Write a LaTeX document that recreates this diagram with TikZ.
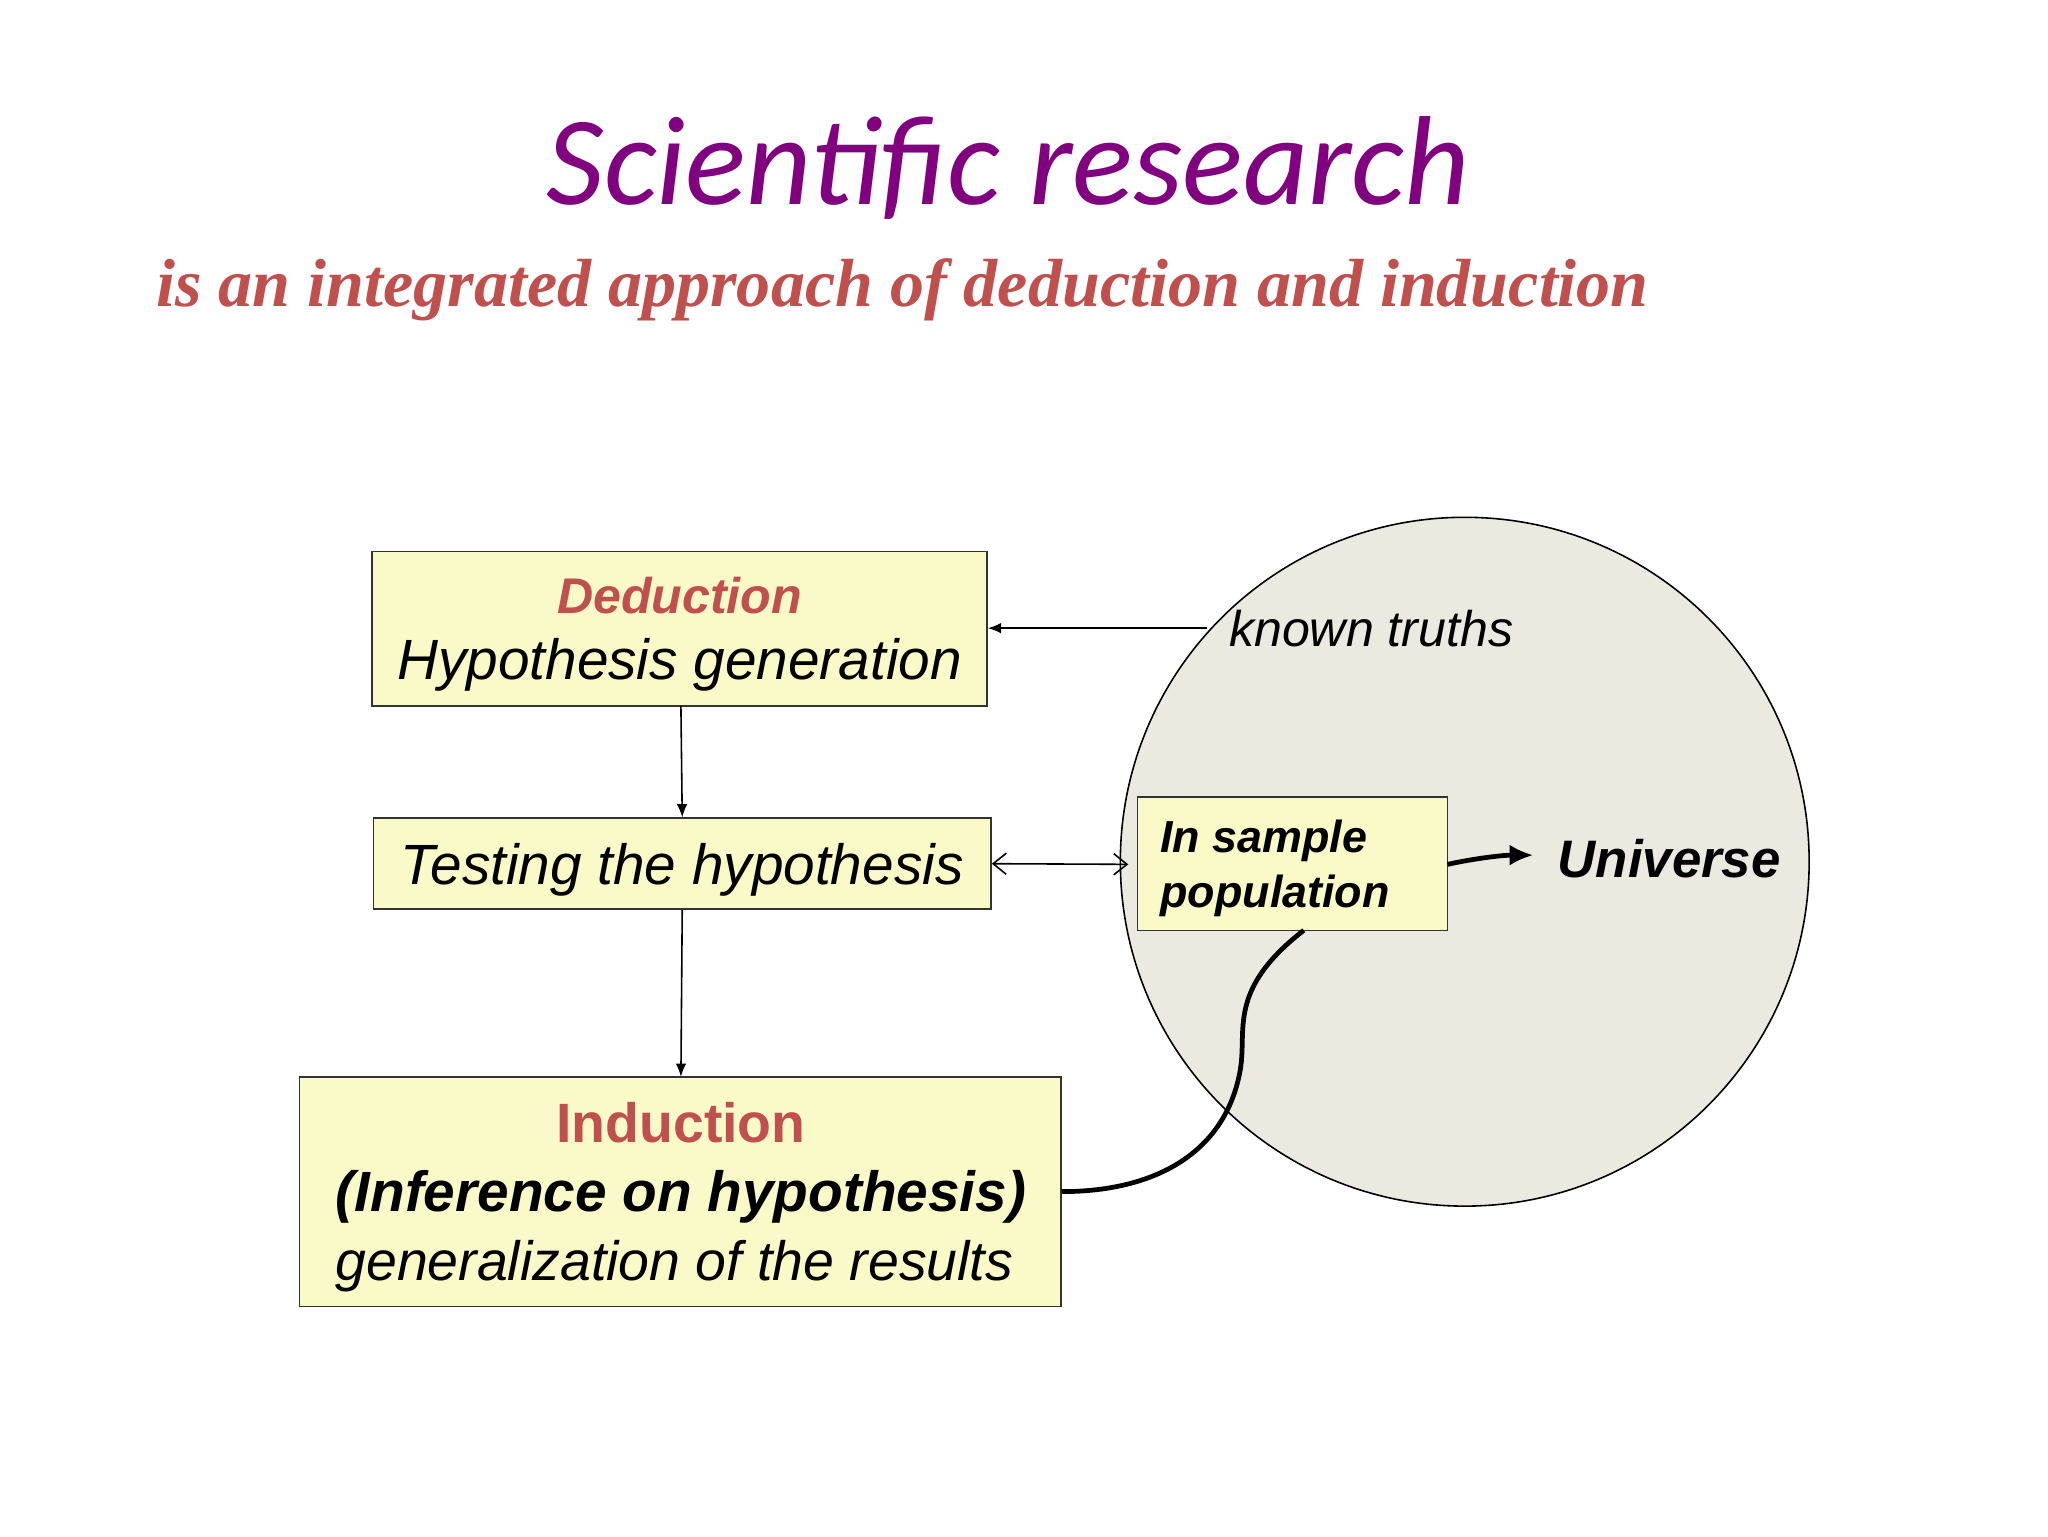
\documentclass[tikz,border=0pt]{standalone}
\usepackage{fontspec}
\setmainfont{Liberation Sans}
\newfontfamily\titlefont{Carlito}
\newfontfamily\serifb{Liberation Serif}
\usetikzlibrary{arrows.meta}
\definecolor{ttl}{HTML}{800080}
\definecolor{brn}{HTML}{C0504D}
\definecolor{boxy}{HTML}{FAFAC8}
\definecolor{circ}{HTML}{ECE9E0}
\tikzset{
  ybox/.style={draw=black!80, fill=boxy, line width=0.6pt, inner sep=0pt},
  arr/.style={-{Latex[length=5pt,width=4pt]}, line width=0.6pt},
  thick arr/.style={line width=1.8pt},
}
\begin{document}
\begin{tikzpicture}[x=0.5pt,y=-0.5pt]
\useasboundingbox[fill=white] (0,0) rectangle (1552,1164);
\node[font=\titlefont\itshape\fontsize{48}{58}\selectfont, text=ttl, anchor=base] (title) at (764,155) {Scientific research};
\node[font=\serifb\bfseries\itshape\fontsize{25.8}{30}\selectfont, text=brn, anchor=base west, inner sep=0pt] (sub) at (118,232) {is an integrated approach of deduction and induction};
% circle
\node[circle, draw=black, fill=circ, line width=0.6pt, minimum size=522*0.5pt, inner sep=0pt] (circ) at (1110,653) {};
% boxes
\node[ybox, minimum width=466*0.5pt, minimum height=117*0.5pt] (ded) at (515,476.5) {};
\node[anchor=base, font=\bfseries\itshape\fontsize{19}{22}\selectfont, text=brn] (dedt) at (515,465) {Deduction};
\node[anchor=base, font=\itshape\fontsize{21.5}{26}\selectfont] (dedh) at (515,515) {Hypothesis generation};
\node[ybox, minimum width=468*0.5pt, minimum height=69*0.5pt] (test) at (517,654.5) {};
\node[anchor=base, font=\itshape\fontsize{21.5}{26}\selectfont] (testt) at (517,670) {Testing the hypothesis};
\node[ybox, minimum width=577*0.5pt, minimum height=174*0.5pt] (ind) at (515.5,903) {};
\node[anchor=base, font=\bfseries\fontsize{21}{25}\selectfont, text=brn] (indt) at (516,866) {Induction};
\node[anchor=base, font=\bfseries\itshape\fontsize{21.5}{25}\selectfont] (indi) at (516,918) {(Inference on hypothesis)};
\node[anchor=base, font=\itshape\fontsize{21}{25}\selectfont] (indg) at (511,970) {generalization of the results};
\node[ybox, minimum width=235*0.5pt, minimum height=101*0.5pt] (samp) at (979.5,654.5) {};
\node[anchor=base west, inner sep=0pt, font=\bfseries\itshape\fontsize{17}{20}\selectfont] (s1) at (879,646) {In sample};
\node[anchor=base west, inner sep=0pt, font=\bfseries\itshape\fontsize{17}{20}\selectfont] (s2) at (879,688) {population};
\node[anchor=base west, inner sep=0pt, font=\bfseries\itshape\fontsize{20}{24}\selectfont] (uni) at (1180,665) {Universe};
\node[anchor=base west, inner sep=0pt, font=\itshape\fontsize{19}{23}\selectfont] (kt) at (931,490) {known truths};
% connectors
\coordinate (ktl) at (915,476);
\draw[arr] (ktl) -- (ded.east |- ktl);
\draw[arr] (516,535) -- (test.north);
\draw[arr] (test.south) -- (516,816);
\coordinate (ce) at (855,655);
\draw[{Straight Barb[length=5pt,width=8pt]}-{Straight Barb[length=5pt,width=8pt]}, line width=0.6pt] (test.east) -- (ce);
\draw[thick arr] (988,705) .. controls (930,750) and (945,780) .. (940,810) .. controls (930,870) and (880,903) .. (ind.east);
\coordinate (ua) at (1162,648);
\draw[thick arr, -{Latex[length=9pt,width=8pt]}] (1097,655) .. controls (1120,650) and (1140,648) .. (ua);
\end{tikzpicture}
\end{document}
